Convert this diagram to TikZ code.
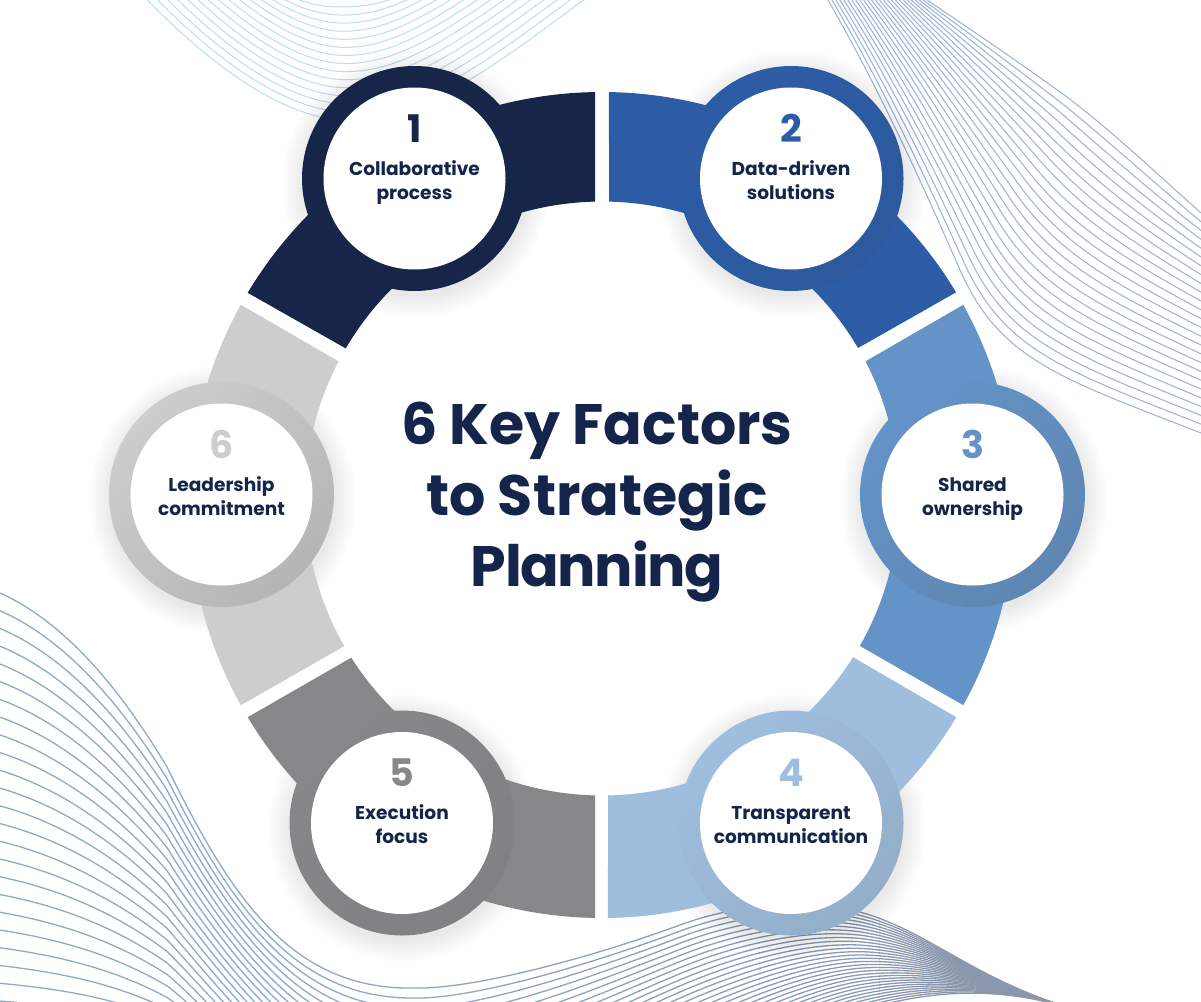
\documentclass[tikz,border=0pt]{standalone}
\usepackage{fontspec}
\setmainfont{Poppins}[BoldFont=Poppins Bold]
\usetikzlibrary{calc}

\definecolor{navy}{HTML}{15244A}
\definecolor{segone}{HTML}{162548}
\definecolor{segtwo}{HTML}{2D5CA6}
\definecolor{segthree}{HTML}{6493C8}
\definecolor{segfour}{HTML}{9FBEDE}
\definecolor{segfive}{HTML}{868788}
\definecolor{segsix}{HTML}{CCCDCD}
\definecolor{ringtwo}{HTML}{2C5A9C}
\definecolor{ringthree}{HTML}{5F86B2}
\definecolor{ringfour}{HTML}{94AEC9}
\definecolor{ringfive}{HTML}{808182}
\definecolor{ringsix}{HTML}{B4B5B5}
\definecolor{waveair}{HTML}{BBDDF0}
\definecolor{wavesky}{HTML}{9DB5D9}
\definecolor{waveblue}{HTML}{8FA9CC}
\definecolor{waveslate}{HTML}{8B97AD}

\tikzset{
  headline/.style={font=\bfseries\fontsize{57}{71}\selectfont,text=navy,align=center,inner sep=0pt},
  numeral/.style={font=\bfseries\fontsize{38}{38}\selectfont,anchor=base,inner sep=0pt},
  caption/.style={font=\bfseries\fontsize{18.6}{24}\selectfont,text=navy,align=center,inner sep=0pt},
  waveline/.style={line width=#1,line cap=butt}
}

% One wedge of the ring: colour, outer start/end angle, inner start/end angle
\newcommand\ringseg[5]{%
  \fill[#1] ($(outerO)+(#2:413)$) arc[start angle=#2,end angle=#3,radius=413]
    -- ($(innerO)+(#4:297)$) arc[start angle=#4,end angle=#5,radius=297] -- cycle;}

% A point between the two bounding curves of a wave family
\newcommand\wv[1]{($(A#1)!\wt!(B#1)$)}
\newcommand\wavetwo{\wv0 .. controls \wv1 and \wv2 .. \wv3 .. controls \wv4 and \wv5 .. \wv6}
\newcommand\wavefive{\wavetwo .. controls \wv7 and \wv8 .. \wv9
  .. controls \wv{10} and \wv{11} .. \wv{12} .. controls \wv{13} and \wv{14} .. \wv{15}}
% Names the control points of one bounding curve
\newcommand\setcurve[2]{\foreach \xx/\yy [count=\k from 0] in {#2} \coordinate (#1\k) at (\xx,\yy);}

% Soft shadow of a badge: centre and strength
\newcommand\softshadow[3]{%
  \foreach \rr in {113,114,...,134}
    \fill[black,opacity=#3] ($(#1,#2)+(1,5)$) circle[radius=\rr];}
% Shaded ring and white disc of a badge
\newcommand\badge[4]{%
  \shade[left color=#3,middle color=#3,right color=#4,shading angle=45] (#1,#2) circle[radius=112.5];
  \fill[white] (#1,#2) circle[radius=91];}

\begin{document}
\begin{tikzpicture}[x=1pt,y=1pt,yscale=-1]
\useasboundingbox (0,0) rectangle (1201,1001);
\fill[white] (0,0) rectangle (1201,1001);
\coordinate (outerO) at (602,505);
\coordinate (innerO) at (602,498.5);

\begin{scope}
\clip (0,0) rectangle (1201,1001);

% pale family along the top edge
\setcurve{A}{275/-12,300/3,320/7,342/7,365/7,385/3,410/-8}
\setcurve{B}{140/-8,185/40,270/118,345/120,420/122,490/70,590/-5}
\foreach \i in {0,...,14}{
  \pgfmathsetmacro\wt{\i/14}
  \draw[waveair,waveline=1.0] \wavetwo;
}

% family sweeping to the right edge
\setcurve{A}{927/0,973/31,1020/63,1067/97,1113/132,1155/172,1201/213}
\setcurve{B}{828/0,880/90,925/190,960/270,1000/360,1060/378,1201/433}
\foreach \i in {0,...,25}{
  \pgfmathsetmacro\wt{\i/25}
  \draw[wavesky,waveline=1.05] \wavetwo;
}

% long family from the left edge along the bottom
\setcurve{A}{0/593,60/620,115/680,167/767,230/895,290/990,413/988,470/990,590/958,680/925,740/903,810/898,860/912,925/930,970/975,1060/1005}
\setcurve{B}{0/1001,50/1005,110/1010,167/1032,215/1050,330/1190,413/1218,500/1210,590/1110,680/1065,740/1035,800/1000,860/988,930/975,990/985,1060/1005}
\foreach \xa/\xb/\mixv in {0/400/100,399/520/80,519/640/60,639/760/40,759/880/20,879/1201/0}{
  \begin{scope}
    \clip (\xa,0) rectangle (\xb,1001);
    \foreach \i in {0,...,30}{
      \pgfmathsetmacro\wt{\i/23}
      \draw[waveblue!\mixv!waveslate,waveline=1.3] \wavefive;
    }
  \end{scope}
}
\end{scope}

% badge shadows on the background
\foreach \cx/\cy in {414.5/178.5,791/178.5,972.5/494.5,791/823,402/823,221.5/494.5}{
  \softshadow{\cx}{\cy}{0.005}
}

% the six wedges
\ringseg{segone}{-90.97}{-149.08}{-149.64}{-91.35}
\ringseg{segtwo}{-89.03}{-30.99}{-30.45}{-88.65}
\ringseg{segthree}{-28.99}{28.99}{29.76}{-27.5}
\ringseg{segfour}{30.92}{89.17}{88.84}{32.3}
\ringseg{segfive}{90.97}{149.08}{147.6}{91.35}
\ringseg{segsix}{151}{209}{207.5}{150.2}

% faint shadow falling on the wedges
\foreach \cx/\cy in {791/178.5,972.5/494.5,791/823,402/823,221.5/494.5}{
  \softshadow{\cx}{\cy}{0.0015}
}

% badges
\badge{414.5}{178.5}{segone}{segone}
\badge{791}{178.5}{segtwo}{ringtwo}
\badge{972.5}{494.5}{segthree}{ringthree}
\badge{791}{823}{segfour}{ringfour}
\badge{402}{823}{segfive}{ringfive}
\badge{221.5}{494.5}{segsix}{ringsix}

\node[numeral,text=segone]   (num1) at (414.5,142) {1};
\node[caption] (cap1) at (414.5,182.2) {\strut Collaborative\\\strut process};
\node[numeral,text=segtwo]   (num2) at (791,142) {2};
\node[caption] (cap2) at (791,182.2) {\strut Data-driven\\\strut solutions};
\node[numeral,text=segthree] (num3) at (972.5,458) {3};
\node[caption] (cap3) at (972.5,498.2) {\strut Shared\\\strut ownership};
\node[numeral,text=segfour]  (num4) at (791,786.5) {4};
\node[caption] (cap4) at (791,826.7) {\strut Transparent\\\strut communication};
\node[numeral,text=segfive]  (num5) at (402,786.5) {5};
\node[caption] (cap5) at (402,826.7) {\strut Execution\\\strut focus};
\node[numeral,text=segsix]   (num6) at (221.5,458) {6};
\node[caption] (cap6) at (221.5,498.2) {\strut Leadership\\\strut commitment};

\node[headline] (title) at (597,500.8) {\strut 6 Key Factors\\\strut to Strategic\\\strut{\addfontfeature{LetterSpace=-2.4}Planning}};
\end{tikzpicture}
\end{document}
